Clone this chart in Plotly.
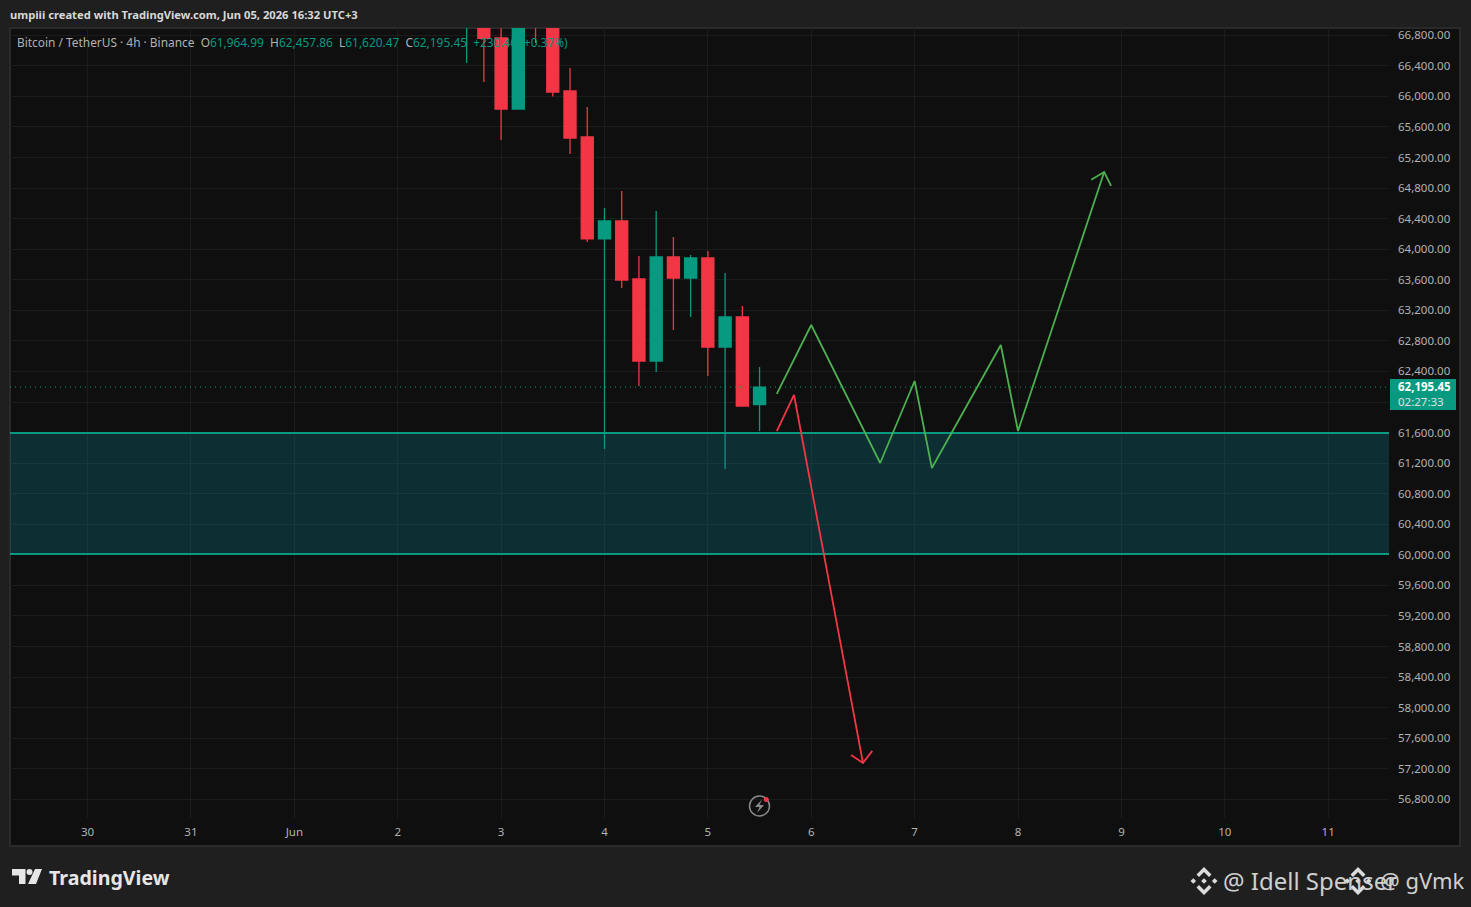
import plotly.graph_objects as go

W, H = 1471, 907
# ---------- data ----------
candle_times = ["2026-06-02 16:00","2026-06-02 20:00","2026-06-03 00:00","2026-06-03 04:00","2026-06-03 08:00",
                "2026-06-03 12:00","2026-06-03 16:00","2026-06-03 20:00","2026-06-04 00:00","2026-06-04 04:00",
                "2026-06-04 08:00","2026-06-04 12:00","2026-06-04 16:00","2026-06-04 20:00","2026-06-05 00:00",
                "2026-06-05 04:00","2026-06-05 08:00","2026-06-05 12:00"]
opens  = [67200, 67050, 66765, 65835, 67300, 67150, 66071, 65469, 64134, 64369, 63610, 62537, 63898, 63623, 63885, 62720, 63113, 61964.99]
highs  = [67600, 67300, 67100, 67200, 67500, 67300, 66372, 65862, 64540, 64762, 63911, 64500, 64160, 63924, 63976, 63689, 63257, 62457.86]
lows   = [66437, 66189, 65430, 65835, 66700, 66000, 65246, 64094, 61385, 63492, 62210, 62393, 62943, 63113, 62340, 61123, 61948, 61620.47]
closes = [67350, 66761, 65835, 67400, 67100, 66058, 65456, 64134, 64369, 63597, 62537, 63898, 63623, 63885, 62720, 63113, 61948, 62195.45]

zone_top, zone_bottom = 61595, 60010
last_price = 62195.45

green_x = ["2026-06-05 16:00","2026-06-06 00:00","2026-06-06 16:00","2026-06-07 00:00","2026-06-07 04:00",
           "2026-06-07 20:00","2026-06-08 00:00","2026-06-08 20:00"]
green_y = [62106, 63008, 61202, 62275, 61136, 62746, 61620, 65010]
green_head_x = ["2026-06-08 17:00","2026-06-08 20:00","2026-06-08 21:36"]
green_head_y = [64910, 65010, 64830]
red_x = ["2026-06-05 16:00","2026-06-05 20:00","2026-06-06 12:00"]
red_y = [61620, 62092, 57276]
red_head_x = ["2026-06-06 09:15","2026-06-06 12:00","2026-06-06 14:10"]
red_head_y = [57381, 57276, 57433]

price_ticks = [56800 + 400 * i for i in range(26)]
date_ticks = ["2026-05-30","2026-05-31","2026-06-01","2026-06-02","2026-06-03","2026-06-04","2026-06-05",
              "2026-06-06","2026-06-07","2026-06-08","2026-06-09","2026-06-10","2026-06-11"]
date_labels = ["30","31","Jun","2","3","4","5","6","7","8","9","10","11"]
x_range = ["2026-05-29 06:00","2026-06-11 14:07"]
y_range = [56555, 66895.5]

UP, DOWN, PANEL, OUTER = "#089981", "#f23645", "#0f0f0f", "#1f1f1f"
GRID = "#1c1c1c"
FONT = "Noto Sans"

def px(x): return x / W
def py(y): return 1 - y / H
def poly(points):
    return "M " + " L ".join(f"{px(x)} {py(y)}" for x, y in points) + " Z"

fig = go.Figure()
# zone
fig.add_trace(go.Scatter(x=[x_range[0], x_range[1], x_range[1], x_range[0], x_range[0]],
                         y=[zone_top, zone_top, zone_bottom, zone_bottom, zone_top],
                         mode="lines", fill="toself", fillcolor="rgba(10,145,165,0.24)",
                         line=dict(width=0), hoverinfo="skip", showlegend=False))
for level in (zone_top, zone_bottom):
    fig.add_trace(go.Scatter(x=x_range, y=[level, level], mode="lines",
                             line=dict(color=UP, width=2), hoverinfo="skip", showlegend=False))
fig.add_trace(go.Scatter(x=x_range, y=[last_price, last_price], mode="lines",
                         line=dict(color=UP, width=1, dash="1px 4px"), showlegend=False))
fig.add_trace(go.Candlestick(x=candle_times, open=opens, high=highs, low=lows, close=closes,
                             increasing=dict(line=dict(color=UP, width=1.3), fillcolor=UP),
                             decreasing=dict(line=dict(color=DOWN, width=1.3), fillcolor=DOWN),
                             whiskerwidth=0, showlegend=False))
for xs, ys, c in [(green_x, green_y, "#4caf50"), (green_head_x, green_head_y, "#4caf50"),
                  (red_x, red_y, DOWN), (red_head_x, red_head_y, DOWN)]:
    fig.add_trace(go.Scatter(x=xs, y=ys, mode="lines", line=dict(color=c, width=1.8), showlegend=False))

LOGO = "#e6e6e6"
shapes = [
    dict(type="rect", xref="paper", yref="paper", x0=px(10), x1=px(1460), y0=py(846), y1=py(28),
         fillcolor=PANEL, line=dict(color="#2a2a2a", width=2), layer="below"),
    dict(type="rect", xref="paper", yref="paper", x0=px(1390), x1=px(1456), y0=py(410), y1=py(379),
         fillcolor=UP, line=dict(width=0), layer="above"),
    dict(type="circle", xref="paper", yref="paper", x0=px(749.5), x1=px(769.5), y0=py(816), y1=py(796),
         line=dict(color="#8a8a8a", width=1.5), layer="above"),
    dict(type="path", xref="paper", yref="paper",
         path=poly([(762, 799.5), (755, 807), (759.5, 807), (757, 813), (764, 805), (759.5, 805)]),
         fillcolor="#8a8a8a", line=dict(width=0), layer="above"),
    dict(type="circle", xref="paper", yref="paper", x0=px(763.8), x1=px(768.8), y0=py(802), y1=py(797),
         fillcolor=DOWN, line=dict(width=0), layer="above"),
    dict(type="path", xref="paper", yref="paper",
         path=poly([(12, 869), (25.5, 869), (25.5, 884), (19, 884), (19, 875.5), (12, 875.5)]),
         fillcolor=LOGO, line=dict(width=0)),
    dict(type="circle", xref="paper", yref="paper", x0=px(26.5), x1=px(32.5), y0=py(875), y1=py(869),
         fillcolor=LOGO, line=dict(width=0)),
    dict(type="path", xref="paper", yref="paper",
         path=poly([(35, 869), (42, 869), (36, 884), (28, 884)]),
         fillcolor=LOGO, line=dict(width=0)),
]
for cx in (1204, 1358):
    cy = 881
    pieces = [
        [(0, -14), (7.5, -6.5), (5, -4), (0, -9), (-5, -4), (-7.5, -6.5)],
        [(0, 14), (7.5, 6.5), (5, 4), (0, 9), (-5, 4), (-7.5, 6.5)],
        [(-13.5, 0), (-10.7, -2.8), (-7.9, 0), (-10.7, 2.8)],
        [(13.5, 0), (10.7, -2.8), (7.9, 0), (10.7, 2.8)],
        [(0, -2.8), (2.8, 0), (0, 2.8), (-2.8, 0)],
    ]
    for piece in pieces:
        shapes.append(dict(type="path", xref="paper", yref="paper",
                           path=poly([(cx + a, cy + b) for a, b in piece]),
                           fillcolor="#dcdcdc", line=dict(width=0)))

def note(x, y, text, size=11, color="#b2b2b2", anchor="left"):
    return dict(xref="paper", yref="paper", x=px(x - 2), y=py(y), text=text, showarrow=False,
                xanchor=anchor, yanchor="middle", align="left",
                font=dict(size=size, color=color, family=FONT))

v = f'<span style="color:{UP}">'
annotations = [
    note(10, 15, "<b>umpiii created with TradingView.com, Jun 05, 2026 16:32 UTC+3</b>", 11.2, "#d8d8d8"),
    note(17, 41.5, f'Bitcoin / TetherUS · 4h · Binance  O{v}61,964.99</span>  H{v}62,457.86</span>  L{v}61,620.47</span>  C{v}62,195.45</span>  {v}+230.46 (+0.37%)</span>', 11.9, "#b2b2b2"),
    note(1398, 394, '<b>62,195.45</b><br><span style="color:#e0e0e0">02:27:33</span>', 11.5, "#ffffff"),
    note(49, 877, "<b>TradingView</b>", 19.6, LOGO),
    note(1223, 880, "@ Idell Spenser", 24, "#cfcfcf"),
    note(1380, 880, "@ gVmk", 22, "#cfcfcf"),
]

fig.update_layout(
    width=W, height=H, margin=dict(l=0, r=0, t=0, b=0),
    paper_bgcolor=OUTER, plot_bgcolor=PANEL, showlegend=False, boxgap=0.3, boxgroupgap=0,
    shapes=shapes, annotations=annotations,
    xaxis=dict(domain=[px(10), px(1389)], range=x_range, type="date", rangeslider=dict(visible=False),
               tickmode="array", tickvals=date_ticks, ticktext=date_labels, tickangle=0,
               showgrid=True, gridcolor=GRID, gridwidth=1, zeroline=False, showline=False,
               ticks="", ticklabelstandoff=5, tickfont=dict(size=11.5, color="#b2b2b2", family=FONT)),
    yaxis=dict(domain=[py(818), py(28)], range=y_range, side="right", tickmode="array", tickvals=price_ticks,
               tickformat=",.2f", showgrid=True, gridcolor=GRID, gridwidth=1, zeroline=False, showline=False,
               ticks="", ticklabelstandoff=8, tickfont=dict(size=11.5, color="#b2b2b2", family=FONT)),
)
fig.write_html("out.html", config=dict(displayModeBar=False),
               post_script="document.body.style.margin='0';document.body.style.background='#1f1f1f';")
